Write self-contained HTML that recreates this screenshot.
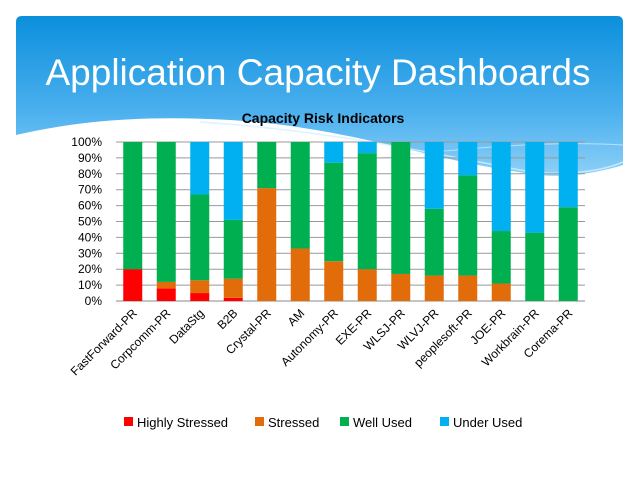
<!DOCTYPE html>
<html><head><meta charset="utf-8"><style>
html,body{margin:0;padding:0;width:638px;height:479px;overflow:hidden;background:#fff;font-family:"Liberation Sans",sans-serif;}
</style></head><body>
<svg width="638" height="479" viewBox="0 0 638 479" xmlns="http://www.w3.org/2000/svg">
<defs>
<linearGradient id="bg" x1="0" y1="0" x2="0" y2="1">
<stop offset="0" stop-color="#0b8fdc"/><stop offset="0.6" stop-color="#4bb0ee"/><stop offset="1" stop-color="#8dd0f7"/>
</linearGradient>
</defs>
<g>
<path d="M16,22 Q16,16 22,16 L617,16 Q623,16 623,22 L623,165 C600,172 570,178 540,175 C500,170 460,162 420,152 C360,138 300,124 230,120 C160,116 90,118 16,135 Z" fill="url(#bg)"/>
<path d="M200,122 C320,130 420,150 520,170 C560,177 600,172 623,162" stroke="#d6efff" stroke-width="1.5" fill="none" opacity="0.8"/>
<path d="M380,158 C450,150 540,140 623,145" stroke="#d6efff" stroke-width="1" fill="none" opacity="0.7"/>
</g>
<text x="318" y="85" text-anchor="middle" font-size="37" fill="#fff">Application Capacity Dashboards</text>
<text x="323" y="123" text-anchor="middle" font-size="14" font-weight="bold" fill="#000">Capacity Risk Indicators</text>
<g id="grid"></g>
<g id="bars"></g>
<g id="xlabels"></g>
<g font-size="13" fill="#000">
<g><rect x="124" y="417" width="9" height="9" fill="#ff0000"/><text x="137" y="427">Highly Stressed</text></g>
<g><rect x="255" y="417" width="9" height="9" fill="#e36c0a"/><text x="268" y="427">Stressed</text></g>
<g><rect x="340" y="417" width="9" height="9" fill="#00b050"/><text x="353" y="427">Well Used</text></g>
<g><rect x="440" y="417" width="9" height="9" fill="#00b0f0"/><text x="453" y="427">Under Used</text></g>
</g>
</svg>
<script>
const categories=["FastForward-PR","Corpcomm-PR","DataStg","B2B","Crystal-PR","AM","Autonomy-PR","EXE-PR","WLSJ-PR","WLVJ-PR","peoplesoft-PR","JOE-PR","Workbrain-PR","Corema-PR"];
const highlyStressed=[20,8,5,2,0,0,0,0,0,0,0,0,0,0];
const stressed=[0,4,8,12,71,33,25,20,17,16,16,11,0,0];
const wellUsed=[80,88,54,37,29,67,62,73,83,42,63,33,43,59];
const underUsed=[0,0,33,49,0,0,13,7,0,42,21,56,57,41];
const yTicks=[0,10,20,30,40,50,60,70,80,90,100];
const ns="http://www.w3.org/2000/svg";
const L=116,R=585,T=142,B=301;
const pitch=(R-L)/categories.length,bw=19;
function y(v){return B-(B-T)*v/100;}
function x(i){return L+pitch*i+pitch/2;}
const grid=document.getElementById('grid');
yTicks.forEach(t=>{
 const l=document.createElementNS(ns,'line');
 
 
 l.setAttribute('x1',L);l.setAttribute('x2',R);l.setAttribute('y1',y(t));l.setAttribute('y2',y(t));
 l.setAttribute('stroke',t===0?'#888':'#999');l.setAttribute('stroke-width','1');
 grid.appendChild(l);
 const tx=document.createElementNS(ns,'text');
 
 
 tx.setAttribute('x',L-14);tx.setAttribute('y',y(t)+4);tx.setAttribute('text-anchor','end');tx.setAttribute('font-size','12');
 tx.textContent=t+'%';grid.appendChild(tx);
});
const series=[[highlyStressed,'#ff0000','highly-stressed'],[stressed,'#e36c0a','stressed'],[wellUsed,'#00b050','well-used'],[underUsed,'#00b0f0','under-used']];
const bars=document.getElementById('bars');
categories.forEach((c,i)=>{
 let tot=highlyStressed[i]+stressed[i]+wellUsed[i]+underUsed[i];let acc=0;
 series.forEach(s=>{
  const v=s[0][i]/tot*100;if(v<=0)return;
  const r=document.createElementNS(ns,'rect');
  
  
  r.setAttribute('x',x(i)-bw/2);r.setAttribute('width',bw);
  r.setAttribute('y',y(acc+v));r.setAttribute('height',y(acc)-y(acc+v));
  r.setAttribute('fill',s[1]);bars.appendChild(r);acc+=v;
 });
 const t=document.createElementNS(ns,'text');
 
 
 t.setAttribute('text-anchor','end');t.setAttribute('font-size','12');
 t.setAttribute('transform','translate('+(x(i)+5)+','+(B+13)+') rotate(-45)');
 t.textContent=c;document.getElementById('xlabels').appendChild(t);
});
</script>
</body></html>
